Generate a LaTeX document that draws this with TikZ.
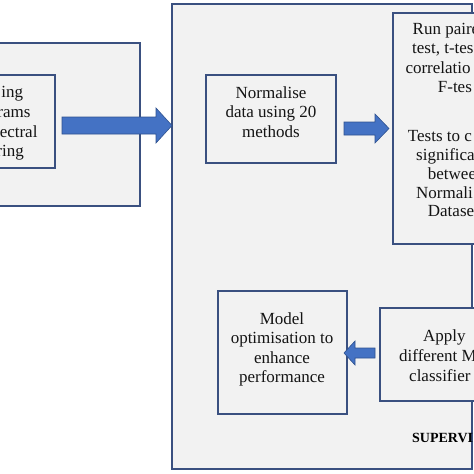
\documentclass[tikz,border=0pt]{standalone}
\usepackage{fontspec}
\setmainfont{Liberation Serif}
\usetikzlibrary{positioning}

\definecolor{boxedge}{RGB}{58,80,128}
\definecolor{boxfill}{RGB}{242,242,242}
\definecolor{arrowblue}{RGB}{68,114,196}
\definecolor{arrowedge}{RGB}{47,82,143}
\definecolor{inktext}{RGB}{20,20,20}

\tikzset{
  panel/.style={draw=boxedge, fill=boxfill, line width=1.4pt, inner sep=0pt},
  txt/.style={align=center, inner sep=0pt, text=inktext, font=\fontsize{17}{19.5}\selectfont},
  frag/.style={inner sep=0pt, text=inktext, font=\fontsize{17}{19.5}\selectfont},
  fatarrow/.style={fill=arrowblue, draw=arrowedge, line width=0.6pt, line join=miter}
}

% block arrow: start x, head base x, tip x, centre y, shaft half, head half
\newcommand{\fatarrow}[6]{%
  \filldraw[fatarrow] (#1,#4-#5) -- (#2,#4-#5) -- (#2,#4-#6) -- (#3,#4)
    -- (#2,#4+#6) -- (#2,#4+#5) -- (#1,#4+#5) -- cycle;}

\begin{document}
\begin{tikzpicture}[x=1pt,y=-1pt]
  \useasboundingbox (0,0) rectangle (474,474);
  \clip (0,0) rectangle (474,474);
  \fill[white] (0,0) rectangle (474,474);

  % input side
  \node[panel, minimum width=170pt, minimum height=163pt] (prep) at (55,124.5) {};
  \node[panel, minimum width=85pt, minimum height=93pt] (spec) at (12.5,121.5) {};
  \foreach \x/\y/\t [count=\i] in {23.3/97/ing, 30.7/117/rams, 37.7/137/ectral, 24/156/ring}
    \node[frag, anchor=base east] (spec-\i) at (\x,\y) {\t};

  % supervised block
  \node[panel, minimum width=300pt, minimum height=465pt] (sup) at (322,236.5) {};
  \node[panel, minimum width=130pt, minimum height=88pt] (norm) at (271,119) {};
  \node[panel, minimum width=130pt, minimum height=231pt] (tests) at (458,128.5) {};
  \node[panel, minimum width=129pt, minimum height=123pt] (optim) at (282.5,352.5) {};
  \node[panel, minimum width=130pt, minimum height=93pt] (apply) at (445,354.5) {};

  \node[txt, anchor=north] (normtxt) at (271,86.4) {Normalise\\data using 20\\methods};
  \node[txt, anchor=north] (optimtxt) at (282,312.4) {Model\\optimisation to\\enhance\\performance};

  \foreach \x/\y/\t [count=\i] in {412.5/34/{Run paire}, 412/53.5/{test, t-tes}, 405.3/73/correlatio,
      437.7/92.5/F-tes, 407.7/141.7/{Tests to c}, 416/160.5/significa, 427.7/179.2/betwee,
      416/198/Normali, 427.7/216.7/Datase}
    \node[frag, anchor=base west] (tests-\i) at (\x,\y) {\t};
  \foreach \x/\y/\t [count=\i] in {423/341/Apply, 399/361.5/{different M}, 409/381.5/classifier}
    \node[frag, anchor=base west] (apply-\i) at (\x,\y) {\t};

  \node[inner sep=0pt, anchor=base west, text=black, font=\bfseries\fontsize{14}{16}\selectfont]
    (suplabel) at (412,442.3) {SUPERVI};

  % arrows
  \fatarrow{62}{156}{172}{125.5}{8.5}{17.5}
  \fatarrow{344}{375}{389}{128.5}{6.5}{14.5}
  \fatarrow{375}{355}{344}{353}{5}{12}
\end{tikzpicture}
\end{document}
